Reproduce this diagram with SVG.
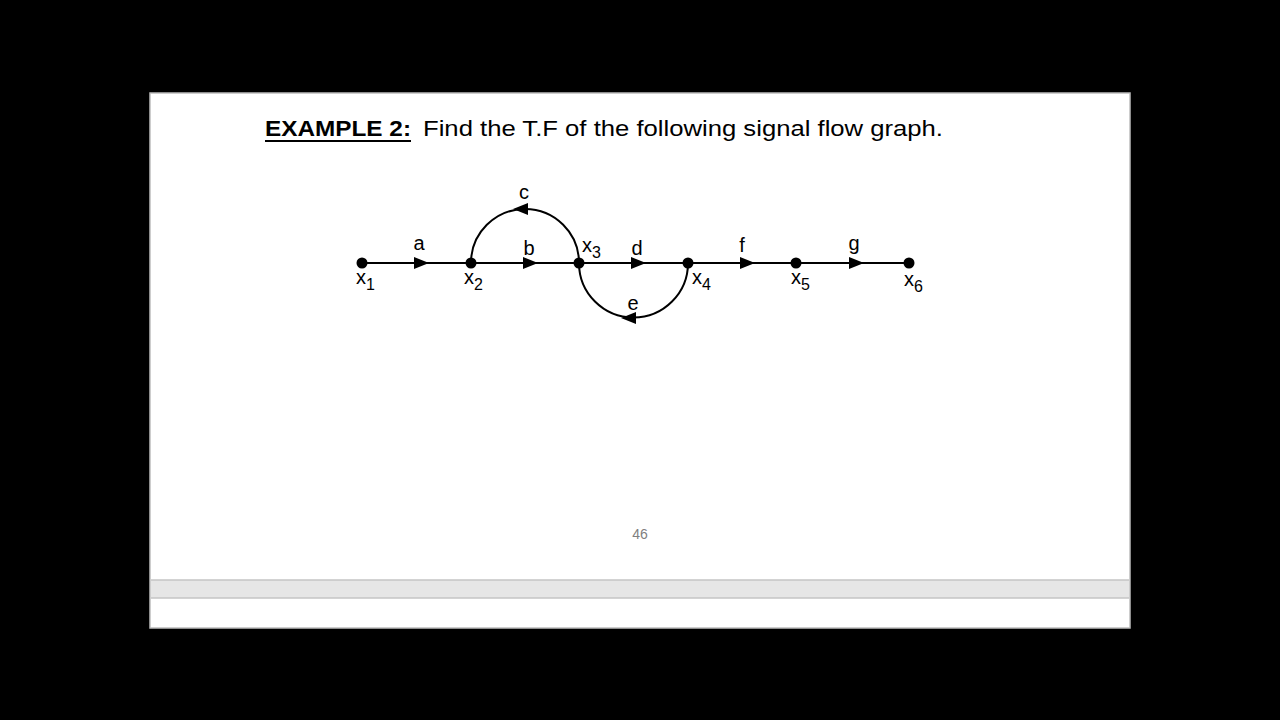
<svg xmlns="http://www.w3.org/2000/svg" width="1280" height="720" viewBox="0 0 1280 720">
<style>
.lbl{font-family:"Liberation Sans",Arial,sans-serif;font-size:20px;fill:#000}
.sub{font-size:16px}
.edge{fill:none;stroke:#000;stroke-width:2}
.node{fill:#000}
.ttl{font-family:"Liberation Sans",Arial,sans-serif;font-size:22px;fill:#000}
</style>
<defs>
<path id="tri" d="M-7,-6 L8,0 L-7,6 Z" fill="#000"/>
</defs>
<rect x="0" y="0" width="1280" height="720" fill="#000"/>
<rect x="150" y="93" width="980" height="535" fill="#fff" stroke="#bdbdbd" stroke-width="1.5"/>
<rect x="151" y="580" width="978" height="18" fill="#e6e6e6"/>
<line x1="151" y1="580" x2="1129" y2="580" stroke="#c4c4c4" stroke-width="1.5"/>
<line x1="151" y1="598" x2="1129" y2="598" stroke="#c4c4c4" stroke-width="1.5"/>
<g id="title">
<text class="ttl" x="265" y="136" font-weight="bold" textLength="146" lengthAdjust="spacingAndGlyphs">EXAMPLE 2:</text>
<line x1="265" y1="141" x2="411" y2="141" stroke="#000" stroke-width="2"/>
<text class="ttl" x="423" y="136" textLength="520" lengthAdjust="spacingAndGlyphs">Find the T.F of the following signal flow graph.</text>
</g>
<g id="connectors">
<path class="edge" d="M362,263 H909"/>
<path class="edge" d="M471,263 A54,54 0 0 1 579,263"/>
<path class="edge" d="M579,263 A54.5,54.5 0 0 0 688,263"/>
<use href="#tri" x="421" y="263"/>
<use href="#tri" x="530" y="263"/>
<use href="#tri" x="638" y="263"/>
<use href="#tri" x="747" y="263"/>
<use href="#tri" x="856" y="263"/>
<use href="#tri" transform="translate(521,209) rotate(180)"/>
<use href="#tri" transform="translate(629,318) rotate(180)"/>
<text class="lbl" x="419" y="250" text-anchor="middle">a</text>
<text class="lbl" x="529" y="255" text-anchor="middle">b</text>
<text class="lbl" x="524" y="199" text-anchor="middle">c</text>
<text class="lbl" x="637" y="255" text-anchor="middle">d</text>
<text class="lbl" x="633" y="310" text-anchor="middle">e</text>
<text class="lbl" x="742" y="252" text-anchor="middle">f</text>
<text class="lbl" x="854" y="250" text-anchor="middle">g</text>
</g>
<g id="x1"><circle class="node" cx="362" cy="263" r="5.5"/><text class="lbl" x="356" y="284">x<tspan class="sub" dy="6">1</tspan></text></g>
<g id="x2"><circle class="node" cx="471" cy="263" r="5.5"/><text class="lbl" x="464" y="284">x<tspan class="sub" dy="6">2</tspan></text></g>
<g id="x3"><circle class="node" cx="579" cy="263" r="5.5"/><text class="lbl" x="582" y="252">x<tspan class="sub" dy="6">3</tspan></text></g>
<g id="x4"><circle class="node" cx="688" cy="263" r="5.5"/><text class="lbl" x="692" y="284">x<tspan class="sub" dy="6">4</tspan></text></g>
<g id="x5"><circle class="node" cx="796" cy="263" r="5.5"/><text class="lbl" x="791" y="284">x<tspan class="sub" dy="6">5</tspan></text></g>
<g id="x6"><circle class="node" cx="909" cy="263" r="5.5"/><text class="lbl" x="904" y="286">x<tspan class="sub" dy="6">6</tspan></text></g>
<text x="640" y="539" text-anchor="middle" font-family="'Liberation Sans',Arial,sans-serif" font-size="14" fill="#7f7f7f">46</text>
</svg>
